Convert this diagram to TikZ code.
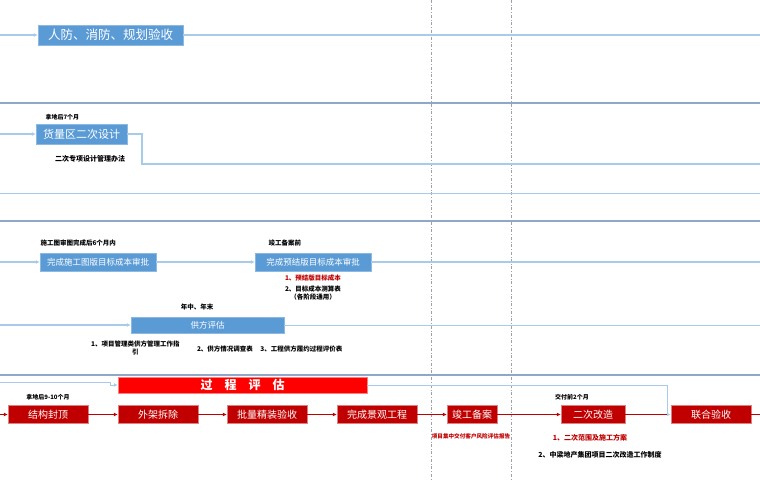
\documentclass[tikz,border=0pt]{standalone}
\usepackage{fontspec}
\setmainfont{Noto Sans CJK SC}
\usetikzlibrary{positioning,shapes,arrows.meta,shadows,calc}
\definecolor{msBlue}{HTML}{5B9BD5}
\definecolor{msLine}{HTML}{A9CBEA}
\definecolor{msSep}{HTML}{8EA9C8}
\definecolor{msDark}{HTML}{C00000}
\definecolor{msRed}{HTML}{FF0000}
\definecolor{msGrid}{HTML}{A0A0A8}
\tikzset{
    msBoxBase/.style={
        rectangle,
        inner sep=0pt,
        text=white,
        align=center,
        drop shadow={opacity=0.15, shadow xshift=0.8pt, shadow yshift=-0.8pt}
    },
    % Task boxes
    blueTask/.style={msBoxBase, fill=msBlue, draw=msBlue!70!white, minimum height=19pt},
    redTask/.style={msBoxBase, fill=msDark, draw=msDark!50!white, minimum width=80pt, minimum height=18pt, font=\fontsize{10}{12}\selectfont},
    evalBox/.style={msBoxBase, fill=msRed, draw=msRed!50!white, minimum width=249pt, minimum height=16pt, font=\fontsize{12}{14}\selectfont\bfseries},
    % Notes
    msNote/.style={font=\fontsize{6.5}{8}\selectfont\bfseries, inner sep=0.5pt, align=center, text=black},
    msRedNote/.style={msNote, text=msDark},
    % Lines
    msLink/.style={draw=msLine, line width=1.2pt},
    msArrow/.style={msLink, -{Latex[length=4pt,width=4pt]}},
    msRedLink/.style={draw=msDark, line width=1pt, -{Latex[length=4pt,width=4pt]}},
    msSepLine/.style={draw=msSep, line width=1.3pt},
    msThinLine/.style={draw=msLine, line width=0.8pt},
    msGridLine/.style={draw=msGrid, dash dot, line width=0.6pt}
}
\begin{document}
\begin{tikzpicture}[x=1pt, y=-1pt]
    \useasboundingbox (0,0) rectangle (760,481);

    % stage borders
    \coordinate (gridA1) at (431.5,0);
    \coordinate (gridA2) at (431.5,481);
    \coordinate (gridB1) at (511.7,0);
    \coordinate (gridB2) at (511.7,481);
    \draw[msGridLine] (gridA1) -- (gridA2);
    \draw[msGridLine] (gridB1) -- (gridB2);

    % lane separators
    \foreach \name/\yy in {sepA/103, sepB/221, sepC/375} {
        \coordinate (\name L) at (0,\yy);
        \coordinate (\name R) at (760,\yy);
        \draw[msSepLine] (\name L) -- (\name R);
    }
    \coordinate (sepML) at (0,193);
    \coordinate (sepMR) at (760,193);
    \draw[msThinLine] (sepML) -- (sepMR);

    % lane 1
    \node[blueTask, minimum width=145pt, minimum height=20pt, font=\fontsize{12.5}{14}\selectfont] (defenseCheck) at (110.5,35) {人防、消防、规划验收};
    \coordinate (laneAIn) at (0,35);
    \coordinate (laneAOut) at (760,35);
    \draw[msArrow] (laneAIn) -- (defenseCheck);
    \draw[msLink] (defenseCheck) -- (laneAOut);

    % lane 2
    \node[blueTask, minimum width=91pt, minimum height=20pt, font=\fontsize{11}{13}\selectfont] (secondDesign) at (81.5,134) {货量区二次设计};
    \node[msNote, font=\fontsize{6}{7}\selectfont\bfseries, above right=3pt and 9pt of secondDesign.north west] (designTime) {拿地后7个月};
    \node[msNote, font=\fontsize{7}{8}\selectfont\bfseries, below=11pt of secondDesign, xshift=8.5pt] (designRule) {二次专项设计管理办法};
    \coordinate (laneBIn) at (0,134);
    \coordinate (laneBBend) at (142,164);
    \coordinate (laneBOut) at (760,164);
    \draw[msArrow] (laneBIn) -- (secondDesign);
    \draw[msLink] (secondDesign.east) -| (laneBBend) -- (laneBOut);

    % lane 3
    \node[blueTask, minimum width=116pt, minimum height=18pt, font=\fontsize{8.5}{10}\selectfont] (costDrawing) at (98,262) {完成施工图版目标成本审批};
    \node[blueTask, minimum width=116pt, minimum height=18pt, font=\fontsize{8.5}{10}\selectfont] (costSettle) at (313,262) {完成预结版目标成本审批};
    \node[msNote, above right=6pt and 0pt of costDrawing.north west] (drawingTime) {施工图审图完成后6个月内};
    \node[msNote, above right=6pt and 13pt of costSettle.north west] (settleTime) {竣工备案前};
    \node[msRedNote, below=2.5pt of costSettle] (settleNoteA) {1、预结版目标成本};
    \node[msNote, below=4pt of settleNoteA] (settleNoteB) {2、目标成本测算表\\（各阶段通用）};
    \coordinate (laneCIn) at (0,262);
    \coordinate (laneCOut) at (760,262);
    \draw[msArrow] (laneCIn) -- (costDrawing);
    \draw[msArrow] (costDrawing) -- (costSettle);
    \draw[msLink] (costSettle) -- (laneCOut);

    % lane 4
    \node[blueTask, minimum width=153pt, minimum height=16pt, font=\fontsize{8.5}{10}\selectfont] (supplierEval) at (207.5,325) {供方评估};
    \node[msNote, above=6pt of supplierEval, xshift=-10.5pt] (evalTime) {年中、年末};
    \node[msNote, below=7pt of supplierEval.south west, xshift=4.5pt] (supplierNoteA) {1、项目管理类供方管理工作指\\引};
    \node[msNote, below=12pt of supplierEval, xshift=17.5pt] (supplierNoteB) {2、供方情况调查表};
    \node[msNote, right=6pt of supplierNoteB] (supplierNoteC) {3、工程供方履约过程评价表};
    \coordinate (laneDIn) at (0,325);
    \coordinate (laneDOut) at (760,325);
    \draw[msArrow] (laneDIn) -- (supplierEval);
    \draw[msThinLine] (supplierEval) -- (laneDOut);

    % lane 5
    \node[evalBox] (processEval) at (242.5,385) {过\hspace{1em}程\hspace{1em}评\hspace{1em}估};
    \node[redTask] (topOut) at (48,414.5) {结构封顶};
    \node[redTask] (scaffoldOff) at (158,414.5) {外架拆除};
    \node[redTask] (finishCheck) at (267,414.5) {批量精装验收};
    \node[redTask] (landscape) at (377,414.5) {完成景观工程};
    \node[redTask, minimum width=50pt] (completionFile) at (472,414.5) {竣工备案};
    \node[redTask, minimum width=64pt] (secondReno) at (593,414.5) {二次改造};
    \node[redTask] (jointCheck) at (711,414.5) {联合验收};
    \node[msNote, font=\fontsize{6}{7}\selectfont\bfseries, above=5pt of topOut] (topTime) {拿地后9-10个月};
    \node[msNote, font=\fontsize{6}{7}\selectfont\bfseries, above=5pt of secondReno, xshift=-21pt] (renoTime) {交付前2个月};
    \node[msRedNote, font=\fontsize{5.6}{7}\selectfont\bfseries, below=9pt of completionFile, xshift=-1pt] (riskReport) {项目集中交付客户风险评估报告};
    \node[msRedNote, font=\fontsize{7}{8}\selectfont\bfseries, below=10pt of secondReno, xshift=-3pt] (renoNoteA) {1、二次范围及施工方案};
    \node[msNote, font=\fontsize{7}{8}\selectfont\bfseries, below=9pt of renoNoteA, xshift=10pt] (renoNoteB) {2、中梁地产集团项目二次改造工作制度};

    \coordinate (evalIn) at (0,382);
    \coordinate (evalJog) at (110,382);
    \coordinate (evalTurn) at (667,385);
    \draw[msThinLine, -{Latex[length=4pt,width=4pt]}] (evalIn) -- (evalJog) |- (processEval);
    \draw[msThinLine, -{Latex[length=4pt,width=4pt]}] (processEval) -- (evalTurn) |- (jointCheck);

    \coordinate (laneEIn) at (0,414.5);
    \coordinate (laneEOut) at (760,414.5);
    \draw[msRedLink] (laneEIn) -- (topOut);
    \draw[msRedLink] (topOut) -- (scaffoldOff);
    \draw[msRedLink] (scaffoldOff) -- (finishCheck);
    \draw[msRedLink] (finishCheck) -- (landscape);
    \draw[msRedLink] (landscape) -- (completionFile);
    \draw[msRedLink] (completionFile) -- (secondReno);
    \draw[msRedLink, -] (secondReno) -- ($(jointCheck.west)+(-4pt,0)$);
    \draw[msRedLink, -] (jointCheck) -- (laneEOut);
\end{tikzpicture}
\end{document}
